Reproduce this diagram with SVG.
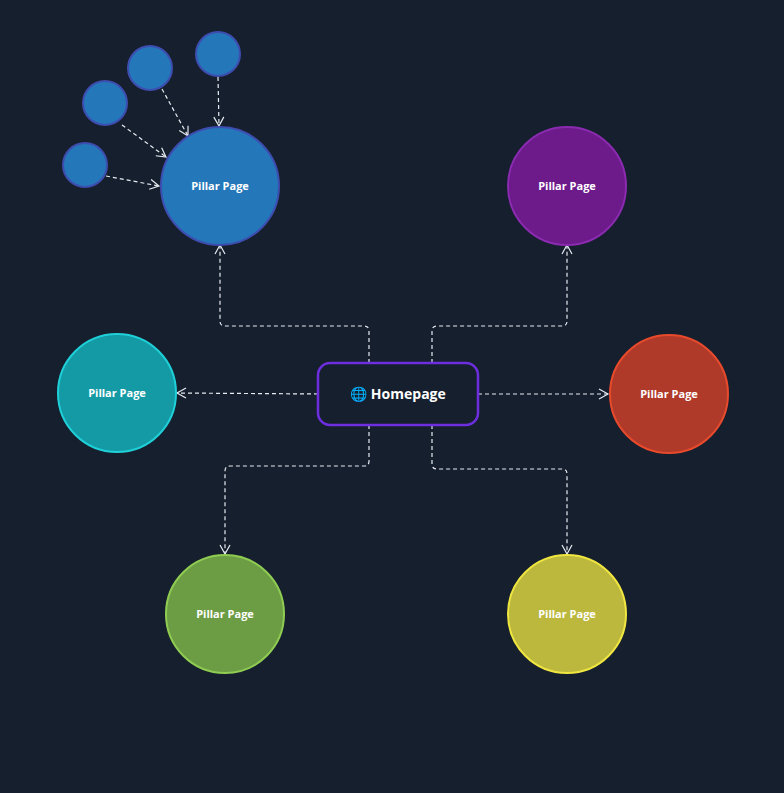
<svg xmlns="http://www.w3.org/2000/svg" width="784" height="793" viewBox="0 0 784 793">
<style>
.c{fill:none;stroke:#e8ecf2;stroke-width:1.2;stroke-dasharray:4 3}
.t{font-family:"Open Sans","Noto Sans",sans-serif;font-weight:bold;fill:#fff;font-size:11px;text-anchor:middle}
</style>
<defs><marker id="a" markerWidth="12" markerHeight="12" refX="10" refY="6" orient="auto" markerUnits="userSpaceOnUse"><path d="M1,1 L10,6 L1,11" fill="none" stroke="#e8ecf2" stroke-width="1.2"/></marker></defs>
<rect width="784" height="793" fill="#161f2e"/>
<g id="connectors">
<path class="c" marker-end="url(#a)" d="M369,363 V331 Q369,326 364,326 H225 Q220,326 220,321 V245"/>
<path class="c" marker-end="url(#a)" d="M432,363 V331 Q432,326 437,326 H562 Q567,326 567,321 V245"/>
<path class="c" marker-end="url(#a)" d="M318,394 L177,393"/>
<path class="c" marker-end="url(#a)" d="M478,394 L608,394"/>
<path class="c" marker-end="url(#a)" d="M369,425 V461 Q369,466 364,466 H230 Q225,466 225,471 V554"/>
<path class="c" marker-end="url(#a)" d="M432,425 V464 Q432,469 437,469 H562 Q567,469 567,474 V554"/>
<path class="c" marker-end="url(#a)" d="M106,176 L159,186"/>
<path class="c" marker-end="url(#a)" d="M122,125 L166,157"/>
<path class="c" marker-end="url(#a)" d="M162,89 L188,136"/>
<path class="c" marker-end="url(#a)" d="M218,77 L219,126"/>
</g>
<g id="home"><rect x="318" y="363" width="160" height="62" rx="12" fill="#161f2e" stroke="#6d2ee0" stroke-width="2.5"/><text x="398" y="399" class="t" style="font-size:14px">🌐 Homepage</text></g>
<g id="p1"><circle cx="220" cy="186" r="59" fill="#2477b8" stroke="#3e4db0" stroke-width="2"/><text x="220" y="190" class="t">Pillar Page</text></g>
<g id="p2"><circle cx="567" cy="186" r="59" fill="#6d1a8a" stroke="#8a2bb0" stroke-width="2"/><text x="567" y="190" class="t">Pillar Page</text></g>
<g id="p3"><circle cx="117" cy="393" r="59" fill="#139aa5" stroke="#1fd0d8" stroke-width="2"/><text x="117" y="397" class="t">Pillar Page</text></g>
<g id="p4"><circle cx="669" cy="394" r="59" fill="#b03a2a" stroke="#e84a2c" stroke-width="2"/><text x="669" y="398" class="t">Pillar Page</text></g>
<g id="p5"><circle cx="225" cy="614" r="59" fill="#6c9c44" stroke="#8fcc52" stroke-width="2"/><text x="225" y="618" class="t">Pillar Page</text></g>
<g id="p6"><circle cx="567" cy="614" r="59" fill="#bcb83e" stroke="#f0e640" stroke-width="2"/><text x="567" y="618" class="t">Pillar Page</text></g>
<g id="s1"><circle cx="85" cy="165" r="22" fill="#2477b8" stroke="#3e4db0" stroke-width="2"/></g>
<g id="s2"><circle cx="105" cy="103" r="22" fill="#2477b8" stroke="#3e4db0" stroke-width="2"/></g>
<g id="s3"><circle cx="150" cy="68" r="22" fill="#2477b8" stroke="#3e4db0" stroke-width="2"/></g>
<g id="s4"><circle cx="218" cy="54" r="22" fill="#2477b8" stroke="#3e4db0" stroke-width="2"/></g>
</svg>
